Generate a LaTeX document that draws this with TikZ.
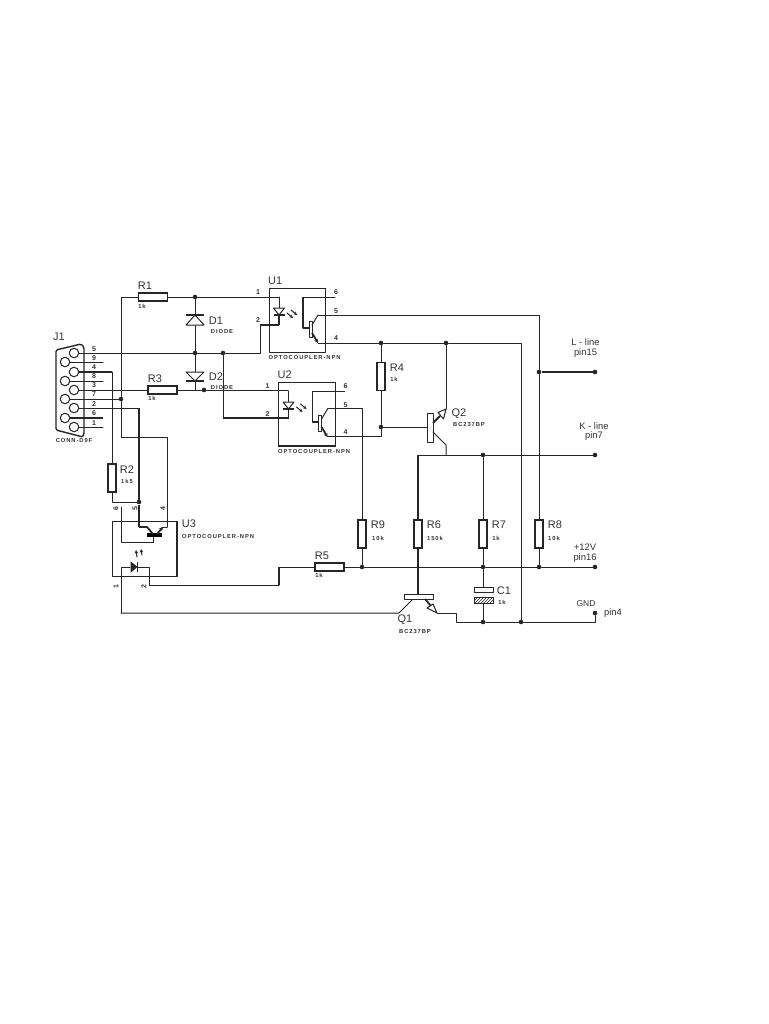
\documentclass[tikz,border=0pt]{standalone}
\usepackage{fontspec}
\setmainfont{Liberation Sans}
\newfontfamily\tinyfont[LetterSpace=16]{Liberation Sans}
\usetikzlibrary{patterns}
\definecolor{ink}{gray}{0.15}
\definecolor{txt}{gray}{0.2}
\tikzset{
  wire/.style={draw=ink,line width=1pt,line cap=round,line join=round},
  thickwire/.style={draw=ink,line width=1.8pt,line join=round},
  res/.style={draw=ink,fill=white,line width=1.2pt,rectangle,inner sep=0pt,minimum width=29pt,minimum height=8pt},
  vres/.style={res,minimum width=8pt,minimum height=28pt},
  dot/.style={circle,fill=ink,inner sep=0pt,minimum size=4.6pt},
  ref/.style={text=txt,font=\fontsize{11}{11}\selectfont,inner sep=0pt},
  val/.style={text=txt,font=\fontsize{5.8}{6}\tinyfont\bfseries,inner sep=0pt},
  pinno/.style={text=txt,font=\fontsize{7}{7}\selectfont\bfseries,inner sep=0pt},
  term/.style={text=txt,font=\fontsize{9.4}{9.4}\selectfont,inner sep=0pt,align=center},
  hole/.style={draw=ink,fill=white,line width=1pt,circle,inner sep=0pt,minimum size=9.5pt},
}
\newcommand{\optocell}[3]{%
  \begin{scope}[shift={(#1,#2)}]
    \draw[wire] (269,288) rectangle (325.5,352);
    \draw[wire] (279,297) -- (279,308);
    \draw[thickwire] (279,314) -- (279,325);
    \draw[wire,fill=white] (273.5,308) -- (284.5,308) -- (279,315) -- cycle;
    \draw[thickwire] (273.5,315) -- (284.5,315);
    \draw[wire,-{Stealth[length=3.5pt,width=3.5pt]}] (287,313) -- (293,318);
    \draw[wire,-{Stealth[length=3.5pt,width=3.5pt]}] (291,310) -- (297,315);
    \draw[thickwire] (303,297) -- (303,328) -- (309,328);
    \draw[wire,fill=white] (309,321) rectangle (312,337);
    \draw[wire] (303,297) -- (335,297);
    \draw[wire] (312,325) -- (318,315);
    \draw[thickwire,-{Stealth[length=4pt,width=4pt]}] (312,333) -- (318,343);
    \node[pinno] at (258,292) {1};
    \node[pinno] at (258,320) {2};
    \node[pinno] at (336,292) {6};
    \node[pinno] at (336,311) {5};
    \node[pinno] at (336,338) {4};
    \node[ref,anchor=west] at (268,281) {#3};
    \node[val,anchor=west] at (268.5,357.5) {OPTOCOUPLER-NPN};
  \end{scope}}
\usetikzlibrary{arrows.meta}
\begin{document}
\begin{tikzpicture}[x=1pt,y=-1pt]
\useasboundingbox (0,0) rectangle (768,1024);
\fill[white] (0,0) rectangle (768,1024);

% ---- junctions
\foreach \n/\x/\y in {jA/195/297,jB/195/353,jC/223/353,jD/204/390,jE/121/399,jF/139/502,
  jG/381/343,jH/446/343,jI/381/427,jJ/483/455,jK/539/372,tL/595/372,tK/595/455,
  jM/362/567,jN/483/567,jO/539/567,tP/595/567,jQ/483/622,jR/521/622,tG/595/613}
  \node[dot] (\n) at (\x,\y) {};

% ---- resistors
\node[res] (R1) at (153,297) {};
\node[res] (R3) at (162.5,390) {};
\node[res] (R5) at (329.5,567) {};
\node[vres] (R2) at (112,478) {};
\node[vres] (R4) at (381,376.5) {};
\node[vres] (R9) at (362,534) {};
\node[vres] (R6) at (418,534) {};
\node[vres] (R7) at (483,534) {};
\node[vres] (R8) at (539,534) {};

% ---- connector J1
\draw[draw=ink,line width=1.4pt,line join=round,rounded corners=1.5pt] (56,350) -- (81,344) -- (84,347) -- (84,434) -- (83,437) -- (56,430) -- cycle;
\coordinate (p5) at (74,353);\coordinate (p9) at (65,362);\coordinate (p4) at (74,372);
\coordinate (p8) at (65,381);\coordinate (p3) at (74,390);\coordinate (p7) at (65,399);
\coordinate (p2) at (74,408);\coordinate (p6) at (65,418);\coordinate (p1) at (74,427);
\draw[wire] (p9) -- ++(38,0) (p8) -- ++(38,0) (p1) -- ++(29,0);
\draw[thickwire] (p6) -- ++(38,0);
\draw[wire] (p5) -- (jB) -- (jC) -- (260,353) -- (260,325);
\draw[thickwire] (260,325) -- (279,325);
\draw[wire] (p3) -- (R3.west) (R3.east) -- (jD) -- (288,390);
\draw[wire] (p7) -- (jE);
\draw[thickwire] (p4) -- (112,372);
\draw[wire] (112,372) -- (R2.north);
\draw[wire] (p2) -- (139,408);
\draw[thickwire] (139,408) -- (jF) -- (139,527);
\foreach \p in {p5,p9,p4,p8,p3,p7,p2,p6,p1} \node[hole] at (\p) {};

% ---- left wiring
\draw[wire] (R2.south) -- (112,502) -- (jF);
\draw[wire] (R1.west) -- (121,297) -- (jE) -- (121,437) -- (167,437) -- (167,527);
\draw[wire] (R1.east) -- (jA) -- (279,297);

% ---- diodes
\draw[wire] (jA) -- (jB) -- (195,390);
\draw[wire,fill=white] (186,325) -- (204,325) -- (195,315) -- cycle;
\draw[thickwire] (186,315) -- (204,315);
\draw[wire,fill=white] (186,372) -- (204,372) -- (195,381) -- cycle;
\draw[thickwire] (186,381) -- (204,381);
\draw[wire] (jC) -- (223,418);
\draw[thickwire] (223,418) -- (288,418);

% ---- optocouplers
\optocell{0}{0}{U1}
\optocell{9.5}{94}{U2}
\draw[thickwire] (325.5,288) -- (325.5,352);
\draw[thickwire] (278.5,418) -- (278.5,446) -- (335,446);

% ---- U1/U2 outputs
\draw[wire] (318,315) -- (539,315) -- (jK) -- (R8.north);
\draw[wire] (318,343) -- (jG) -- (jH) -- (521,343) -- (jR);
\draw[wire] (jG) -- (R4.north);
\draw[wire] (R4.south) -- (jI) -- (381,436.5) -- (327.5,436.5);
\draw[wire] (327.5,408) -- (362,408) -- (R9.north);
\draw[thickwire] (jK) -- (tL);

% ---- Q2
\draw[wire] (jI) -- (427,427);
\draw[wire,fill=white] (427,413) rectangle (433,442);
\draw[wire] (jH) -- (446,409);
\draw[thickwire] (433,423) -- (440,416);
\draw[wire,fill=white] (438,412.5) -- (446,409) -- (443.5,419) -- cycle;
\draw[wire] (433,432) -- (446,445) -- (446,455);
\draw[wire] (418,455) -- (jJ) -- (tK);
\draw[thickwire] (418,455) -- (R6.north);
\draw[wire] (jJ) -- (R7.north);

% ---- U3
\draw[wire] (112,521) rectangle (177,576);
\draw[thickwire] (177,521) -- (177,576);
\draw[wire] (121,507) -- (121,542) -- (153,542) -- (153,536);
\draw[line width=4pt,draw=black] (147,535) -- (162,535);
\draw[thickwire] (139,527) -- (147,527) -- (153,534);
\draw[wire] (167,527) -- (162,527);
\draw[thickwire,-{Stealth[length=4pt,width=4pt]}] (157,534) -- (163,527);
\draw[wire,-{Stealth[length=3.5pt,width=3.5pt]}] (137,557) -- (136,550);
\draw[wire,-{Stealth[length=3.5pt,width=3.5pt]}] (142,555) -- (141,549);
\draw[wire] (121,613) -- (121,567) -- (130,567);
\draw[wire] (138,567) -- (149,567) -- (149,585) -- (279,585);
\draw[thickwire] (279,585) -- (279,567);
\draw[wire] (279,567) -- (R5.west);
\draw[fill=ink,draw=ink,line width=0.6pt] (131,562) -- (131,572) -- (137,567) -- cycle;
\draw[thickwire] (137.5,562) -- (137.5,572);

% ---- supply
\draw[wire] (R5.east) -- (jM) -- (jN) -- (jO) -- (tP);
\draw[wire] (R9.south) -- (jM) (R7.south) -- (jN) (R8.south) -- (jO);
\draw[thickwire] (R6.south) -- (418,594);

% ---- Q1
\draw[wire] (121,613) -- (399,613) -- (413,599);
\draw[wire,fill=white] (404,594) rectangle (433,599);
\draw[thickwire] (425,599) -- (431,606);
\draw[wire,fill=white] (427,608) -- (433,604) -- (437,613) -- cycle;
\draw[wire] (437,613) -- (456,613) -- (456,622) -- (jQ) -- (jR) -- (595,622) -- (tG);

% ---- C1
\draw[wire] (jN) -- (483,587) (483,603) -- (jQ);
\draw[wire,fill=white] (474,587) rectangle (493,592);
\draw[wire,pattern=north east lines,pattern color=ink] (474,597) rectangle (493,603);

% ---- labels
\node[ref] at (59,337) {J1};
\node[val] at (74,441) {CONN-D9F};
\foreach \t/\y in {5/349,9/358,4/367,8/376,3/385,7/394,2/404,6/413,1/423}
  \node[pinno] at (94,\y) {\t};
\node[ref] at (145,286) {R1};  \node[val] at (142,306) {1k};
\node[ref] at (155,379) {R3};  \node[val] at (152,398) {1k};
\node[ref] at (127,470) {R2};  \node[val] at (127,481) {1k5};
\node[ref] at (216,321) {D1};  \node[val] at (222,332) {DIODE};
\node[ref] at (216,377) {D2};  \node[val] at (222,388) {DIODE};
\node[ref] at (397,368) {R4};  \node[val] at (394,379) {1k};
\node[ref] at (459,414) {Q2};  \node[val] at (469,425) {BC237BP};
\node[ref] at (405,620) {Q1};  \node[val] at (415,632) {BC237BP};
\node[ref] at (189,524) {U3};  \node[val,anchor=west] at (182,536) {OPTOCOUPLER-NPN};
\node[ref] at (322,556) {R5};  \node[val] at (319,575) {1k};
\node[ref] at (378,525) {R9};  \node[val] at (378,538) {10k};
\node[ref] at (434,525) {R6};  \node[val] at (435,538) {150k};
\node[ref] at (499,525) {R7};  \node[val] at (496,538) {1k};
\node[ref] at (555,525) {R8};  \node[val] at (554,538) {10k};
\node[ref] at (504,591) {C1};  \node[val] at (502,602) {1k};
\node[pinno,rotate=90] at (116,509) {6};
\node[pinno,rotate=90] at (135,509) {5};
\node[pinno,rotate=90] at (163,509) {4};
\node[pinno,rotate=90] at (116,587) {1};
\node[pinno,rotate=90] at (144,587) {2};
\node[term] at (585.5,348) {L - line\\pin15};
\node[term] at (594,431.5) {K - line\\pin7};
\node[term] at (585,553) {+12V\\pin16};
\node[term,font=\fontsize{8.5}{9}\selectfont] at (586,604) {GND};
\node[term] at (613,613) {pin4};
\end{tikzpicture}
\end{document}
